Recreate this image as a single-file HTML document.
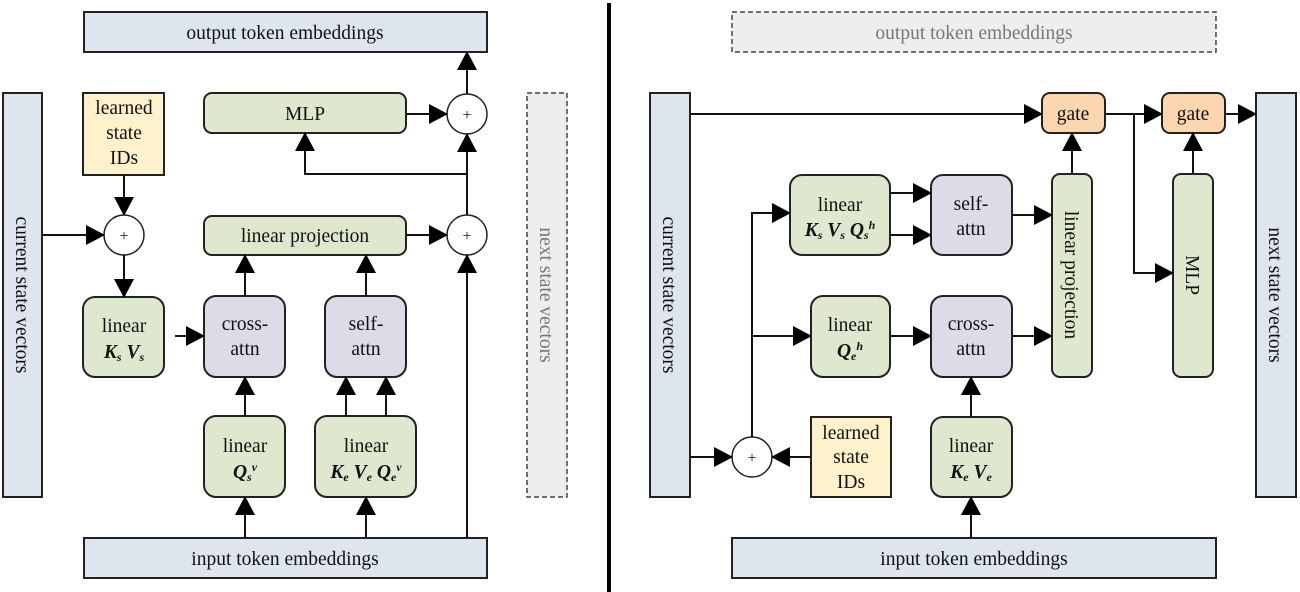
<!DOCTYPE html>
<html><head><meta charset="utf-8"><style>
html,body{margin:0;padding:0;background:#fff;}
svg{display:block;}
text{font-family:"Liberation Serif",serif;font-size:19.5px;fill:#111;}
.b{stroke:#222;stroke-width:2;}
.g{fill:#dde8cf;}
.p{fill:#dcdbe7;}
.bl{fill:#dee5ef;}
.y{fill:#fdf2cc;}
.o{fill:#fbd6ae;}
.l{stroke:#111;stroke-width:2;fill:none;}
.it{font-weight:bold;font-style:italic;}
</style></head><body>
<svg width="1300" height="592" viewBox="0 0 1300 592" xmlns="http://www.w3.org/2000/svg">
<defs>
<marker id="a" markerUnits="userSpaceOnUse" markerWidth="20" markerHeight="22" refX="18" refY="10" orient="auto">
<path d="M0,0 L19,10 L0,20 z" fill="#000"/></marker>
</defs>

<line x1="609" y1="3" x2="609" y2="592" stroke="#000" stroke-width="4"/>

<!-- ========== LEFT ========== -->
<rect x="84" y="12" width="403" height="40" class="b bl"/>
<text x="285" y="39" text-anchor="middle">output token embeddings</text>
<rect x="84" y="538" width="403" height="40" class="b bl"/>
<text x="285" y="565" text-anchor="middle">input token embeddings</text>

<rect x="3" y="93" width="39" height="404" class="b bl"/>
<text transform="translate(16,295) rotate(90)" text-anchor="middle">current state vectors</text>
<rect x="527" y="93" width="40" height="404" fill="#eeeeee" stroke="#444" stroke-width="1.5" stroke-dasharray="5,3"/>
<text transform="translate(540,295) rotate(90)" text-anchor="middle" style="fill:#777">next state vectors</text>

<rect x="83" y="93" width="81" height="82" class="b y"/>
<text x="124" y="114" text-anchor="middle">learned</text>
<text x="124" y="139" text-anchor="middle">state</text>
<text x="124" y="164" text-anchor="middle">IDs</text>

<circle cx="124" cy="235" r="20" fill="#fff" stroke="#222" stroke-width="1.5"/>
<text x="124" y="241" text-anchor="middle" style="font-size:16px">+</text>

<rect x="83" y="297" width="81" height="80" rx="12" class="b g"/>
<text x="124" y="332" text-anchor="middle">linear</text>
<text x="124" y="358" text-anchor="middle" class="it">K<tspan style="font-size:12px" dy="3">s</tspan><tspan dy="-3"> V</tspan><tspan style="font-size:12px" dy="3">s</tspan></text>

<rect x="204" y="296" width="81" height="81" rx="12" class="b p"/>
<text x="245" y="330" text-anchor="middle">cross-</text>
<text x="245" y="355" text-anchor="middle">attn</text>
<rect x="325" y="296" width="81" height="81" rx="12" class="b p"/>
<text x="366" y="330" text-anchor="middle">self-</text>
<text x="366" y="355" text-anchor="middle">attn</text>

<rect x="204" y="416" width="81" height="81" rx="12" class="b g"/>
<text x="245" y="452" text-anchor="middle">linear</text>
<text x="245" y="478" text-anchor="middle" class="it">Q<tspan style="font-size:12px" dy="3">s</tspan><tspan style="font-size:12px" dy="-10">v</tspan></text>
<rect x="315" y="416" width="101" height="81" rx="12" class="b g"/>
<text x="366" y="452" text-anchor="middle">linear</text>
<text x="366" y="478" text-anchor="middle" class="it">K<tspan style="font-size:12px" dy="3">e</tspan><tspan dy="-3"> V</tspan><tspan style="font-size:12px" dy="3">e</tspan><tspan dy="-3"> Q</tspan><tspan style="font-size:12px" dy="3">e</tspan><tspan style="font-size:12px" dy="-10">v</tspan></text>

<rect x="204" y="216" width="202" height="39" rx="8" class="b g"/>
<text x="305" y="242" text-anchor="middle">linear projection</text>
<rect x="204" y="93" width="202" height="40" rx="8" class="b g"/>
<text x="305" y="120" text-anchor="middle">MLP</text>

<circle cx="467" cy="114" r="20" fill="#fff" stroke="#222" stroke-width="1.5"/>
<text x="467" y="120" text-anchor="middle" style="font-size:16px">+</text>
<circle cx="467" cy="235" r="20" fill="#fff" stroke="#222" stroke-width="1.5"/>
<text x="467" y="241" text-anchor="middle" style="font-size:16px">+</text>

<line x1="42" y1="235" x2="104" y2="235" class="l" marker-end="url(#a)"/>
<line x1="124" y1="175" x2="124" y2="215" class="l" marker-end="url(#a)"/>
<line x1="124" y1="255" x2="124" y2="297" class="l" marker-end="url(#a)"/>
<line x1="175" y1="336" x2="204" y2="336" class="l" marker-end="url(#a)"/>
<line x1="245" y1="296" x2="245" y2="255" class="l" marker-end="url(#a)"/>
<line x1="366" y1="296" x2="366" y2="255" class="l" marker-end="url(#a)"/>
<line x1="245" y1="416" x2="245" y2="377" class="l" marker-end="url(#a)"/>
<line x1="346" y1="416" x2="346" y2="377" class="l" marker-end="url(#a)"/>
<line x1="386" y1="416" x2="386" y2="377" class="l" marker-end="url(#a)"/>
<line x1="245" y1="538" x2="245" y2="497" class="l" marker-end="url(#a)"/>
<line x1="366" y1="538" x2="366" y2="497" class="l" marker-end="url(#a)"/>
<line x1="406" y1="235" x2="447" y2="235" class="l" marker-end="url(#a)"/>
<line x1="406" y1="114" x2="447" y2="114" class="l" marker-end="url(#a)"/>
<line x1="467" y1="538" x2="467" y2="255" class="l" marker-end="url(#a)"/>
<line x1="467" y1="215" x2="467" y2="134" class="l" marker-end="url(#a)"/>
<polyline points="467,174 305,174 305,133" class="l" marker-end="url(#a)"/>
<line x1="467" y1="94" x2="467" y2="52" class="l" marker-end="url(#a)"/>

<!-- ========== RIGHT ========== -->
<rect x="732" y="12" width="484" height="40" fill="#eeeeee" stroke="#444" stroke-width="1.5" stroke-dasharray="5,3"/>
<text x="974" y="39" text-anchor="middle" style="fill:#777">output token embeddings</text>
<rect x="732" y="538" width="484" height="40" class="b bl"/>
<text x="974" y="565" text-anchor="middle">input token embeddings</text>

<rect x="650" y="93" width="40" height="404" class="b bl"/>
<text transform="translate(663,295) rotate(90)" text-anchor="middle">current state vectors</text>
<rect x="1256" y="93" width="40" height="404" class="b bl"/>
<text transform="translate(1269,295) rotate(90)" text-anchor="middle">next state vectors</text>

<rect x="1042" y="93" width="63" height="40" rx="8" class="b o"/>
<text x="1073" y="120" text-anchor="middle">gate</text>
<rect x="1162" y="93" width="63" height="40" rx="8" class="b o"/>
<text x="1193" y="120" text-anchor="middle">gate</text>

<rect x="790" y="175" width="100" height="80" rx="12" class="b g"/>
<text x="840" y="211" text-anchor="middle">linear</text>
<text x="840" y="236" text-anchor="middle" class="it">K<tspan style="font-size:12px" dy="3">s</tspan><tspan dy="-3"> V</tspan><tspan style="font-size:12px" dy="3">s</tspan><tspan dy="-3"> Q</tspan><tspan style="font-size:12px" dy="3">s</tspan><tspan style="font-size:12px" dy="-10">h</tspan></text>
<rect x="931" y="175" width="81" height="80" rx="12" class="b p"/>
<text x="971" y="210" text-anchor="middle">self-</text>
<text x="971" y="235" text-anchor="middle">attn</text>

<rect x="1052" y="174" width="40" height="203" rx="8" class="b g"/>
<text transform="translate(1065,275) rotate(90)" text-anchor="middle">linear projection</text>
<rect x="1173" y="174" width="40" height="203" rx="8" class="b g"/>
<text transform="translate(1186,275) rotate(90)" text-anchor="middle">MLP</text>

<rect x="811" y="296" width="79" height="81" rx="12" class="b g"/>
<text x="850" y="331" text-anchor="middle">linear</text>
<text x="850" y="357" text-anchor="middle" class="it">Q<tspan style="font-size:12px" dy="3">e</tspan><tspan style="font-size:12px" dy="-10">h</tspan></text>
<rect x="931" y="296" width="81" height="81" rx="12" class="b p"/>
<text x="971" y="330" text-anchor="middle">cross-</text>
<text x="971" y="355" text-anchor="middle">attn</text>

<circle cx="752" cy="457" r="20" fill="#fff" stroke="#222" stroke-width="1.5"/>
<text x="752" y="463" text-anchor="middle" style="font-size:16px">+</text>
<rect x="811" y="417" width="80" height="80" class="b y"/>
<text x="851" y="439" text-anchor="middle">learned</text>
<text x="851" y="463" text-anchor="middle">state</text>
<text x="851" y="488" text-anchor="middle">IDs</text>
<rect x="931" y="417" width="81" height="80" rx="12" class="b g"/>
<text x="971" y="452" text-anchor="middle">linear</text>
<text x="971" y="478" text-anchor="middle" class="it">K<tspan style="font-size:12px" dy="3">e</tspan><tspan dy="-3"> V</tspan><tspan style="font-size:12px" dy="3">e</tspan></text>

<line x1="690" y1="114" x2="1042" y2="114" class="l" marker-end="url(#a)"/>
<line x1="1105" y1="114" x2="1162" y2="114" class="l" marker-end="url(#a)"/>
<polyline points="1134,114 1134,273 1173,273" class="l" marker-end="url(#a)"/>
<line x1="1225" y1="114" x2="1256" y2="114" class="l" marker-end="url(#a)"/>
<line x1="1072" y1="174" x2="1072" y2="133" class="l" marker-end="url(#a)"/>
<line x1="1193" y1="174" x2="1193" y2="133" class="l" marker-end="url(#a)"/>
<line x1="690" y1="457" x2="732" y2="457" class="l" marker-end="url(#a)"/>
<line x1="811" y1="457" x2="772" y2="457" class="l" marker-end="url(#a)"/>
<line x1="752" y1="437" x2="752" y2="213" class="l"/>
<line x1="751" y1="213" x2="790" y2="213" class="l" marker-end="url(#a)"/>
<line x1="752" y1="336" x2="811" y2="336" class="l" marker-end="url(#a)"/>
<line x1="890" y1="193" x2="931" y2="193" class="l" marker-end="url(#a)"/>
<line x1="890" y1="235" x2="931" y2="235" class="l" marker-end="url(#a)"/>
<line x1="1012" y1="215" x2="1052" y2="215" class="l" marker-end="url(#a)"/>
<line x1="890" y1="336" x2="931" y2="336" class="l" marker-end="url(#a)"/>
<line x1="1012" y1="336" x2="1052" y2="336" class="l" marker-end="url(#a)"/>
<line x1="971" y1="417" x2="971" y2="377" class="l" marker-end="url(#a)"/>
<line x1="971" y1="538" x2="971" y2="497" class="l" marker-end="url(#a)"/>
</svg>
</body></html>
